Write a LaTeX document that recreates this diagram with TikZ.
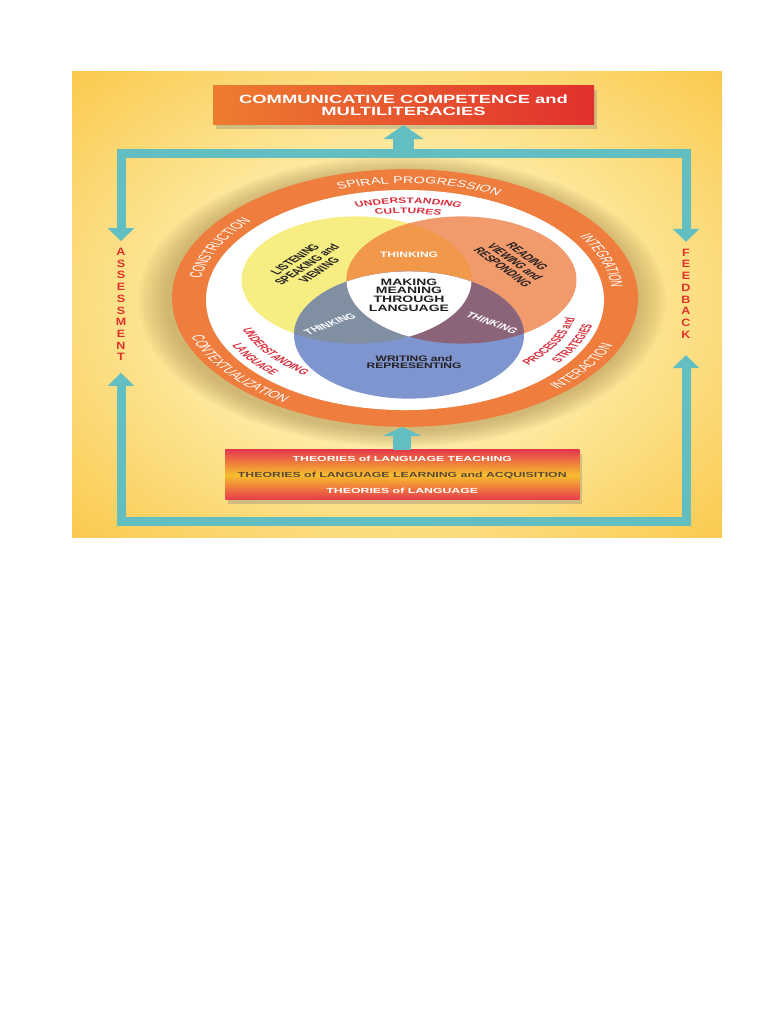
\documentclass[tikz,border=0pt]{standalone}
\usepackage{fontspec}
\setmainfont{Liberation Sans}
\usetikzlibrary{positioning}
\usetikzlibrary{arrows.meta}
\usetikzlibrary{shadows}

\definecolor{bgedge}{HTML}{F9C23A}
\definecolor{bgmid}{HTML}{FEEDAA}
\definecolor{shadowtan}{HTML}{9C7A3C}
\definecolor{frameteal}{HTML}{63BEC2}
\definecolor{ringorange}{HTML}{EE7D3E}
\definecolor{boxorange}{HTML}{EE7C2F}
\definecolor{boxred}{HTML}{E2302E}
\definecolor{theoryred}{HTML}{E53A4B}
\definecolor{theoryyellow}{HTML}{F8BE2E}
\definecolor{theorytext}{HTML}{5A4636}
\definecolor{labelred}{HTML}{E0332E}
\definecolor{ringred}{HTML}{D92F3D}
\definecolor{vennyellow}{HTML}{F6EE82}
\definecolor{vennsalmon}{HTML}{F19B6D}
\definecolor{vennorange}{HTML}{F2984A}
\definecolor{vennblue}{HTML}{7E95CF}
\definecolor{venngrey}{HTML}{808FA2}
\definecolor{vennmauve}{HTML}{8B6479}
\definecolor{inktext}{HTML}{231F20}

\pgfdeclareradialshading{bgglow}{\pgfpoint{0bp}{0bp}}{color(0bp)=(bgmid); color(14bp)=(bgmid); color(40bp)=(bgedge); color(50bp)=(bgedge)}

\def\squash{0.553}
\def\ringOuter{233}
\def\ringInner{199}
\def\vennRadius{115}

\newcommand{\ringFont}{\fontsize{14.5}{14.5}\selectfont}
\newcommand{\redFont}{\bfseries\fontsize{12}{12}\selectfont}

\tikzstyle{frameline}=[draw=frameteal,line width=9pt,line join=miter]
\tikzstyle{frameTip}=[arrows={Triangle[width=26pt,length=13pt]-Triangle[width=26pt,length=13pt]}]
\tikzstyle{topbox}=[rectangle,left color=boxorange,right color=boxred,minimum width=381pt,minimum height=60pt,yscale=0.65,inner sep=0pt,text=white,align=center,font=\bfseries\fontsize{18.4}{18}\selectfont,drop shadow={shadow xshift=3pt,shadow yshift=-4pt,opacity=0.35}]
\tikzstyle{theorybox}=[rectangle,top color=theoryred,bottom color=theoryred,middle color=theoryyellow,minimum width=354pt,minimum height=83.3pt,yscale=0.6,inner sep=0pt,align=center,font=\bfseries\fontsize{12.3}{26.2}\selectfont,drop shadow={shadow xshift=3pt,shadow yshift=-4pt,opacity=0.35}]
\tikzstyle{sidelabel}=[align=center,inner xsep=0pt,inner ysep=8pt,yscale=0.85,text=labelred,font=\bfseries\fontsize{12.5}{13.8}\selectfont]
\tikzstyle{ringchar}=[anchor=base,inner sep=0pt,yscale=1.2]
\tikzstyle{vennlabel}=[align=center,inner sep=0pt,yscale=1.2,text=inktext,font=\bfseries\fontsize{12.5}{13}\selectfont]
\tikzstyle{thinking}=[inner sep=0pt,yscale=1.2,text=white,font=\bfseries\fontsize{12}{12}\selectfont]

% letters set one by one round the ring: name, radius, centre angle, side (1 top, -1 bottom), font, colour, text
\makeatletter
\newdimen\ringw
\newcount\ringidx
\newcommand{\ringmeasure}[1]{%
  \pgfinterruptpicture\global\setbox1=\hbox{#1}\endpgfinterruptpicture
  \ringw=\wd1
  \edef\ringwn{\strip@pt\ringw}}
\newcommand{\ringtext}[7]{%
  \ringidx=0
  \ringmeasure{#5#7}%
  \pgfmathsetmacro{\ringpos}{#3+#4*\ringwn/(2*#2)*57.2958}%
  \@tfor\ringch:=#7\do{%
    \advance\ringidx by 1
    \ringmeasure{#5\ringch}%
    \pgfmathsetmacro{\ringmid}{\ringpos-#4*\ringwn/(2*#2)*57.2958}%
    \pgfmathsetmacro{\ringrot}{\ringmid-90*#4}%
    \node[font=#5,text=#6,rotate=\ringrot,ringchar] (#1-\the\ringidx) at (\ringmid:#2) {\ringch};
    \pgfmathsetmacro{\ringpos}{\ringpos-#4*\ringwn/#2*57.2958}%
  }%
}
\makeatother

\newcommand{\circleDiagram}{
  \begin{scope}[shift={(405,726)},yscale=\squash,transform shape]
    \foreach \s in {1,...,12}
      \fill[shadowtan,opacity=0.045] (-3,-6) circle [radius=\ringOuter+2.6*\s];
    \fill[ringorange] (0,0) circle [radius=\ringOuter];
    \fill[white] (0,-3.7) circle [radius=\ringInner];
    \coordinate (ringbot) at (0,-\ringOuter);
    \coordinate (yel) at (-48.5,32.5);
    \coordinate (ora) at (56.5,32.5);
    \coordinate (blu) at (4,-67);
    \fill[vennyellow] (yel) circle [radius=\vennRadius];
    \fill[vennsalmon] (ora) circle [radius=\vennRadius];
    \fill[vennblue] (blu) circle [radius=\vennRadius];
    \begin{scope}
      \clip (yel) circle [radius=\vennRadius];
      \fill[vennorange] (ora) circle [radius=\vennRadius];
      \fill[venngrey] (blu) circle [radius=\vennRadius];
    \end{scope}
    \begin{scope}
      \clip (ora) circle [radius=\vennRadius];
      \fill[vennmauve] (blu) circle [radius=\vennRadius];
    \end{scope}
    \begin{scope}
      \clip (yel) circle [radius=\vennRadius];
      \clip (ora) circle [radius=\vennRadius];
      \fill[white] (blu) circle [radius=\vennRadius];
    \end{scope}

    \node[thinking] (think-top) at (4,77.8) {THINKING};
    \node[rotate=33,thinking] (think-left) at (-75,-47) {THINKING};
    \node[rotate=-33,thinking] (think-right) at (87,-45) {THINKING};
    \node[vennlabel,font=\bfseries\fontsize{14}{13}\selectfont] (meaning) at (4,5.4) {MAKING\\MEANING\\THROUGH\\LANGUAGE};
    \node[rotate=50,vennlabel] (listen) at (-98,60) {LISTENING\\SPEAKING and\\VIEWING};
    \node[rotate=-52,vennlabel] (read) at (110,65) {READING\\VIEWING and\\RESPONDING};
    \node[vennlabel,font=\bfseries\fontsize{12}{12}\selectfont] (write) at (9,-116) {WRITING and\\REPRESENTING};

    \ringtext{spiral}{207}{86}{1}{\ringFont}{white}{SPIRAL~PROGRESSION}
    \ringtext{construct}{207}{154}{1}{\ringFont}{white}{CONSTRUCTION}
    \ringtext{integrate}{207}{19}{1}{\ringFont}{white}{INTEGRATION}
    \ringtext{context}{225}{217.6}{-1}{\ringFont}{white}{CONTEXTUALIZATION}
    \ringtext{interact}{225}{325}{-1}{\ringFont}{white}{INTERACTION}
    \ringtext{cultures-a}{171}{89}{1}{\redFont}{ringred}{UNDERSTANDING}
    \ringtext{cultures-b}{153}{89}{1}{\redFont}{ringred}{CULTURES}
    \ringtext{language-a}{172}{216.5}{-1}{\redFont}{ringred}{UNDERSTANDING}
    \ringtext{language-b}{193}{216.5}{-1}{\redFont}{ringred}{LANGUAGE}
    \ringtext{process-a}{174}{331.6}{-1}{\redFont}{ringred}{PROCESSES~and}
    \ringtext{process-b}{194}{333.7}{-1}{\redFont}{ringred}{STRATEGIES}
  \end{scope}
}

\begin{document}
\begin{tikzpicture}[x=1pt,y=1pt]
    \useasboundingbox (0,0) rectangle (768,1024);
    \fill[white] (0,0) rectangle (768,1024);
    \shade[shading=bgglow] (72,486) rectangle (722,952);

    \circleDiagram

    \node[topbox] (comm) at (403.5,918.5) {COMMUNICATIVE COMPETENCE and\\MULTILITERACIES};
    \node[theorybox] (theories) at (402.3,549) {\textcolor{white}{THEORIES of LANGUAGE TEACHING}\\\textcolor{theorytext}{THEORIES of LANGUAGE LEARNING and ACQUISITION}\\\textcolor{white}{THEORIES of LANGUAGE}};
    \node[sidelabel] (assess) at (121,719.5) {A\\S\\S\\E\\S\\S\\M\\E\\N\\T};
    \node[sidelabel] (feed) at (686,730.5) {F\\E\\E\\D\\B\\A\\C\\K};
    \coordinate (topmid) at (403.5,870);
    \coordinate (botmid) at (403.5,502);

    % feedback loop round the circle
    \draw[frameline,frameTip] (assess.north) |- (topmid) -| (feed.north);
    \draw[frameline,frameTip,shorten <=5pt,shorten >=10pt] (assess.south) |- (botmid) -| (feed.south);
    \draw[frameline,line width=21pt,-{Triangle[width=40pt,length=14pt]}] (topmid) -- (comm.south);
    \draw[frameline,line width=18pt,-{Triangle[width=38pt,length=9pt]}] (theories.north) -- (theories.north |- ringbot);
\end{tikzpicture}
\end{document}
